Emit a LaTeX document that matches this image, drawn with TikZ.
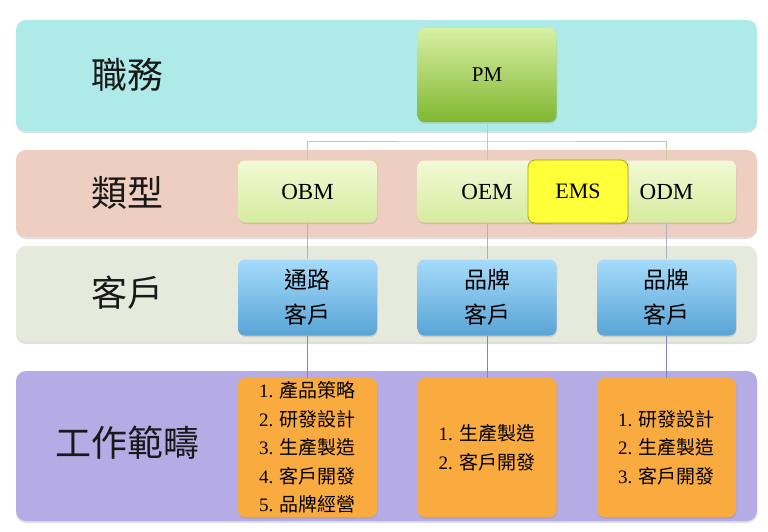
\documentclass[tikz,border=0pt]{standalone}
\usepackage{fontspec}
\setmainfont{Liberation Serif}
\newfontfamily\zhfont{Noto Sans CJK TC}
\newcommand{\zh}[1]{{\zhfont #1}}
\usetikzlibrary{positioning,shadows}

\definecolor{dutyband}{HTML}{AEEAE8}
\definecolor{typeband}{HTML}{EFCEC2}
\definecolor{clientband}{HTML}{E6EADC}
\definecolor{scopeband}{HTML}{B5ACE6}
\definecolor{orangebox}{HTML}{F9AB40}

\begin{document}
\begin{tikzpicture}[x=1pt,y=-1pt,node distance=179.5pt,auto]
  \tikzstyle{band}=[rounded corners=10pt,minimum width=741pt,inner sep=0pt,
    drop shadow={opacity=.25,shadow xshift=0pt,shadow yshift=-2pt}]
  \tikzstyle{rowname}=[font=\zhfont\fontsize{36}{40}\selectfont,text=black!90]
  \tikzstyle{box}=[rounded corners=7pt,minimum width=139pt,inner sep=0pt,align=center,
    drop shadow={opacity=.25,shadow xshift=.5pt,shadow yshift=-1.5pt}]
  \tikzstyle{topbox}=[box,minimum height=94pt,top color={rgb,255:red,216;green,240;blue,164},
    bottom color={rgb,255:red,128;green,184;blue,48},font=\fontsize{21}{24}\selectfont]
  \tikzstyle{typebox}=[box,minimum height=62pt,top color={rgb,255:red,242;green,250;blue,214},
    bottom color={rgb,255:red,213;green,235;blue,158},font=\fontsize{23}{26}\selectfont]
  \tikzstyle{emsbox}=[box,minimum width=100pt,minimum height=63pt,
    fill={rgb,255:red,255;green,255;blue,58},draw={rgb,255:red,170;green,160;blue,20},
    line width=.8pt,font=\fontsize{22}{26}\selectfont]
  \tikzstyle{clientbox}=[box,minimum height=76pt,top color={rgb,255:red,166;green,219;blue,251},
    bottom color={rgb,255:red,88;green,164;blue,214},font=\zhfont\fontsize{23}{35}\selectfont]
  \tikzstyle{scopebox}=[box,minimum height=139pt,fill=orangebox,font=\fontsize{19}{28.5}\selectfont]
  \tikzstyle{treeline}=[draw={rgb,255:red,196;green,201;blue,166},line width=.9pt]
  \tikzstyle{midline}=[draw={rgb,255:red,169;green,180;blue,190},line width=.9pt]
  \tikzstyle{lowline}=[draw={rgb,255:red,124;green,136;blue,190},line width=.9pt]

  \useasboundingbox[fill=white] (0,0) rectangle (768,531);

  % rows
  \node[band,fill=dutyband,minimum height=111pt]   (duty)   at (386.5,75.5)  {};
  \node[band,fill=typeband,minimum height=87pt]    (kind)   at (386.5,193.5) {};
  \node[band,fill=clientband,minimum height=96pt]  (client) at (386.5,294)   {};
  \node[band,fill=scopeband,minimum height=150pt]  (scope)  at (386.5,446)   {};

  \node[rowname] (lduty)   at (127,75)  {職務};
  \node[rowname] (lkind)   at (127,193) {類型};
  \node[rowname] (lclient) at (127,293) {客戶};
  \node[rowname] (lscope)  at (127,443) {工作範疇};

  % boxes
  \node[topbox]  (pm)  at (487,75)      {PM};
  \node[typebox] (obm) at (307.5,191.5) {OBM};
  \node[typebox] (oem) [right of=obm]   {OEM};
  \node[typebox] (odm) [right of=oem]   {ODM};
  \node[emsbox]  (ems) at (578,191.5)   {EMS};

  \node[clientbox] (c1) at (307.5,297.5) {通路\\客戶};
  \node[clientbox] (c2) [right of=c1]    {品牌\\客戶};
  \node[clientbox] (c3) [right of=c2]    {品牌\\客戶};

  \node[scopebox] (s1) at (307.5,447.5)
    {1. \zh{產品策略}\\2. \zh{研發設計}\\3. \zh{生產製造}\\4. \zh{客戶開發}\\5. \zh{品牌經營}};
  \node[scopebox] (s2) [right of=s1] {1. \zh{生產製造}\\2. \zh{客戶開發}};
  \node[scopebox] (s3) [right of=s2] {1. \zh{研發設計}\\2. \zh{生產製造}\\3. \zh{客戶開發}};

  % lines
  \coordinate (bus) at (487,141);
  \draw[treeline] (pm.south) -- (oem.north);
  \draw[treeline] (obm.north) |- (bus) -| (odm.north);
  \draw[midline] (obm) -- (c1);
  \draw[midline] (oem) -- (c2);
  \draw[midline] (odm) -- (c3);
  \draw[lowline] (c1) -- (s1);
  \draw[lowline] (c2) -- (s2);
  \draw[lowline] (c3) -- (s3);
\end{tikzpicture}
\end{document}
